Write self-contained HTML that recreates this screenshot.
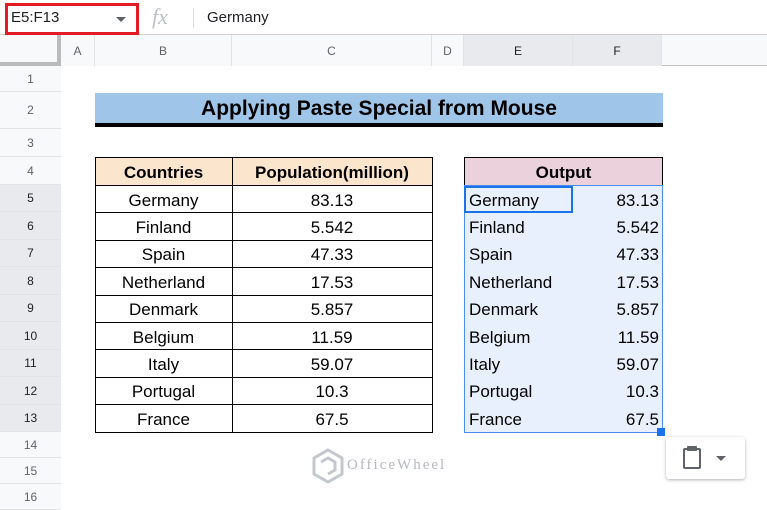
<!DOCTYPE html>
<html><head><meta charset="utf-8"><style>
*{margin:0;padding:0;box-sizing:border-box}
body{width:767px;height:505px;overflow:hidden;background:#fff;font-family:"Liberation Sans",Arial,sans-serif;position:relative}
.a{position:absolute}
.rh{position:absolute;left:0;width:61px;border-bottom:1px solid #e2e3e3;background:#f8f9fa;color:#5f6368;font-size:12px;display:flex;align-items:center;justify-content:center}
.ch{position:absolute;top:35px;height:31px;border-right:1px solid #e2e3e3;background:#f8f9fa;color:#5f6368;font-size:12px;display:flex;align-items:center;justify-content:center}
.c{position:absolute;font-size:17px;color:#000;display:flex;align-items:center}
</style></head><body>
<div class="a" style="left:0;top:0;width:767px;height:35px;border-bottom:1px solid #d0d0d0;background:#fff"></div>
<div class="a" style="left:5px;top:3px;width:134px;height:32px;border:3px solid #e31b23;"></div>
<div class="a" style="left:11px;top:9px;font-size:15px;color:#202124">E5:F13</div>
<div class="a" style="left:116px;top:17px;width:0;height:0;border-left:5px solid transparent;border-right:5px solid transparent;border-top:5px solid #5f6368"></div>
<div class="a" style="left:152px;top:4px;font-size:22px;font-style:italic;color:#bdc1c6;font-family:'Liberation Serif',serif">fx</div>
<div class="a" style="left:193px;top:8px;width:1px;height:20px;background:#dadce0"></div>
<div class="a" style="left:207px;top:9px;font-size:15px;color:#202124">Germany</div>
<div class="a" style="left:0;top:35px;width:767px;height:31px;background:#f8f9fa;border-bottom:1px solid #c0c0c0"></div>
<div class="a" style="left:0;top:35px;width:61px;height:31px;border-right:4px solid #bbb;border-bottom:4px solid #bbb;background:#f8f9fa"></div>
<div class="ch" style="left:61px;width:34px">A</div>
<div class="ch" style="left:95px;width:137px">B</div>
<div class="ch" style="left:232px;width:200px">C</div>
<div class="ch" style="left:432px;width:32px">D</div>
<div class="ch" style="left:464px;width:109px;background:#e8eaed;color:#202124">E</div>
<div class="ch" style="left:573px;width:89px;background:#e8eaed;color:#202124">F</div>
<div class="a" style="left:0;top:66px;width:61px;height:439px;background:#f8f9fa;border-right:1px solid #c0c0c0"></div>
<div class="rh" style="top:66px;height:26px">1</div>
<div class="rh" style="top:92px;height:37px">2</div>
<div class="rh" style="top:129px;height:28px">3</div>
<div class="rh" style="top:157px;height:28px">4</div>
<div class="rh" style="top:185px;height:27px;background:#e8eaed;color:#202124">5</div>
<div class="rh" style="top:212px;height:28px;background:#e8eaed;color:#202124">6</div>
<div class="rh" style="top:240px;height:27px;background:#e8eaed;color:#202124">7</div>
<div class="rh" style="top:267px;height:28px;background:#e8eaed;color:#202124">8</div>
<div class="rh" style="top:295px;height:27px;background:#e8eaed;color:#202124">9</div>
<div class="rh" style="top:322px;height:28px;background:#e8eaed;color:#202124">10</div>
<div class="rh" style="top:350px;height:27px;background:#e8eaed;color:#202124">11</div>
<div class="rh" style="top:377px;height:28px;background:#e8eaed;color:#202124">12</div>
<div class="rh" style="top:405px;height:27px;background:#e8eaed;color:#202124">13</div>
<div class="rh" style="top:432px;height:26px">14</div>
<div class="rh" style="top:458px;height:26px">15</div>
<div class="rh" style="top:484px;height:26px">16</div>
<div class="a" style="left:95px;top:93px;width:568px;height:34px;background:#9fc5e8;border-bottom:4px solid #000;font-size:21px;font-weight:bold;display:flex;align-items:center;justify-content:center;padding-top:2px">Applying Paste Special from Mouse</div>
<div class="a" style="left:95px;top:157px;width:338px;height:276px;border:1px solid #000"></div>
<div class="a" style="left:96px;top:158px;width:336px;height:27px;background:#fce5cd"></div>
<div class="a" style="left:232px;top:157px;width:1px;height:276px;background:#000"></div>
<div class="c" style="left:95px;top:159px;width:137px;height:28px;justify-content:center;font-weight:bold">Countries</div>
<div class="c" style="left:232px;top:159px;width:200px;height:28px;justify-content:center;font-weight:bold">Population(million)</div>
<div id="L"></div>
<div class="a" style="left:464px;top:157px;width:199px;height:29px;background:#ead1dc;border:1px solid #000;border-bottom:none;font-size:17px;font-weight:bold;display:flex;align-items:center;justify-content:center;padding-top:2px">Output</div>
<div class="a" style="left:464px;top:185px;width:199px;height:248px;background:#e8f0fd;border:1px solid #4a8cf0"></div>
<div class="a" style="left:464px;top:186px;width:109px;height:27px;border:2px solid #1a73e8"></div>
<div class="a" style="left:657px;top:428px;width:8px;height:8px;background:#1a73e8"></div>
<div id="R"></div>
<svg class="a" style="left:311px;top:448px" width="34" height="36" viewBox="0 0 34 36"><path d="M17 2 L31 10 L31 26 L17 34 L3 26 L3 10 Z" fill="none" stroke="#c4c7cc" stroke-width="3"/><path d="M10 14 L17 10 L24 14 L24 22 L17 26" fill="none" stroke="#c4c7cc" stroke-width="3"/></svg>
<div class="a" style="left:347px;top:457px;font-size:15px;letter-spacing:2px;color:#b5b8bd;font-family:'Liberation Serif',serif">OfficeWheel</div>
<div class="a" style="left:666px;top:437px;width:79px;height:42px;background:#fff;box-shadow:0 1px 3px rgba(0,0,0,.3);border-radius:3px"></div>
<div class="a" style="left:683px;top:448px;width:18px;height:21px;border:2.5px solid #5f6368;border-radius:2px"></div>
<div class="a" style="left:687px;top:446px;width:10px;height:5px;background:#5f6368;border-radius:1px"></div>
<div class="a" style="left:716px;top:456px;width:0;height:0;border-left:5px solid transparent;border-right:5px solid transparent;border-top:5px solid #5f6368"></div>
<script>
var d=[["Germany","83.13"],["Finland","5.542"],["Spain","47.33"],["Netherland","17.53"],["Denmark","5.857"],["Belgium","11.59"],["Italy","59.07"],["Portugal","10.3"],["France","67.5"]];
var L="",R="";
for(var i=0;i<9;i++){var t=185+i*27.4,u=t+2;
L+='<div class="a" style="left:95px;top:'+t+'px;width:338px;height:1px;background:#000"></div>';
L+='<div class="c" style="left:95px;top:'+u+'px;width:137px;height:27px;justify-content:center">'+d[i][0]+'</div>';
L+='<div class="c" style="left:232px;top:'+u+'px;width:200px;height:27px;justify-content:center">'+d[i][1]+'</div>';
R+='<div class="c" style="left:469px;top:'+u+'px;width:100px;height:27px">'+d[i][0]+'</div>';
R+='<div class="c" style="left:573px;top:'+u+'px;width:86px;height:27px;justify-content:flex-end">'+d[i][1]+'</div>';}
document.getElementById("L").innerHTML=L;document.getElementById("R").innerHTML=R;
</script>
</body></html>
